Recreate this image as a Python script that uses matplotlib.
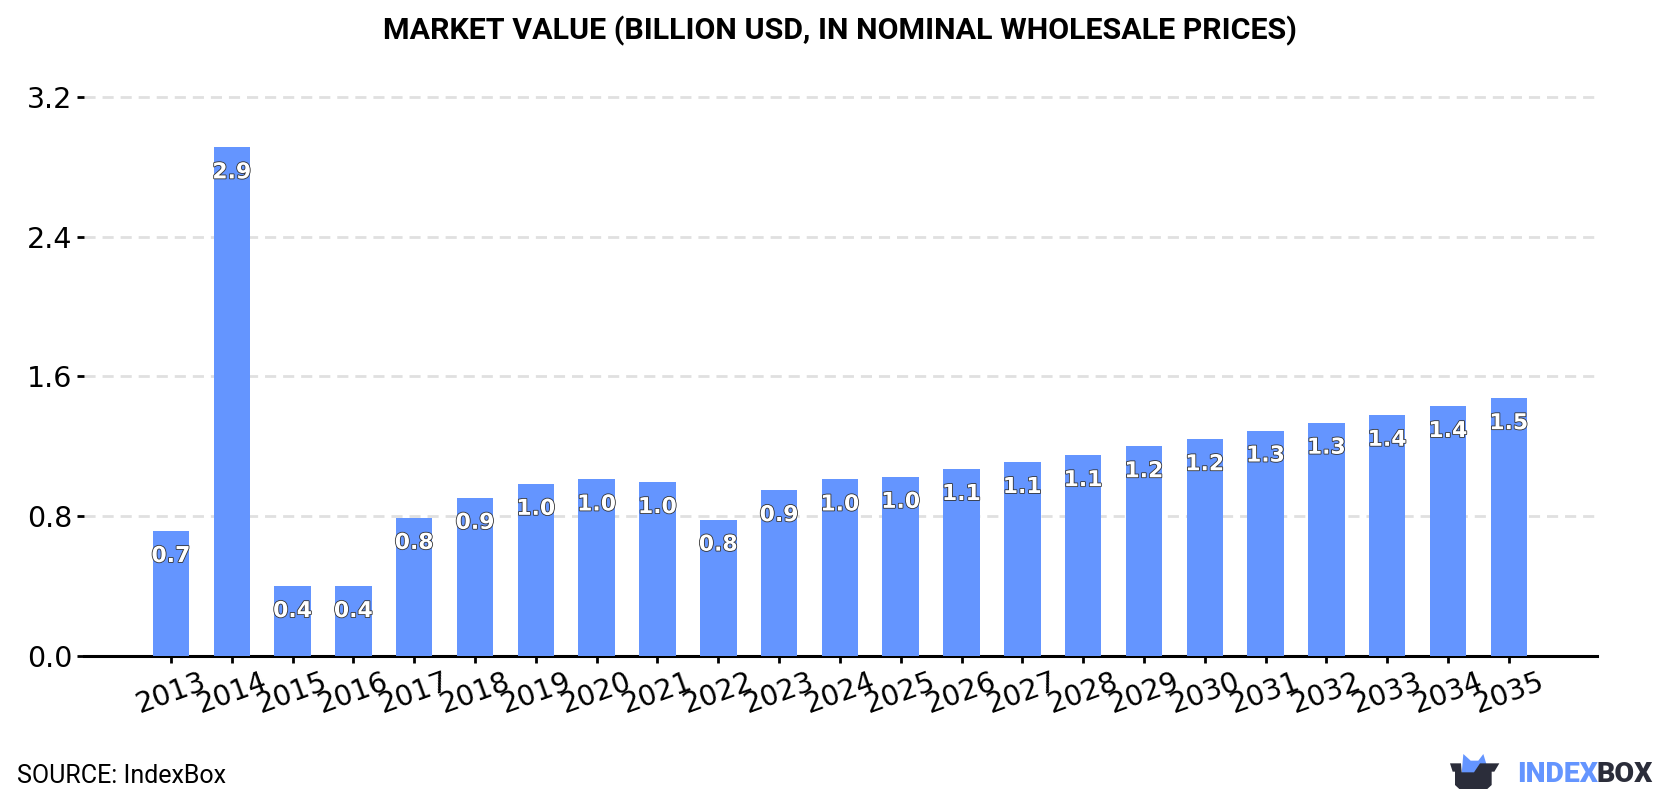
import matplotlib
matplotlib.use('Agg')
import matplotlib.pyplot as plt
import matplotlib.patheffects as pe
from matplotlib.patches import Polygon

years = list(range(2013, 2036))
values = [0.715, 2.91, 0.40, 0.40, 0.79, 0.905, 0.985, 1.01, 0.995, 0.78, 0.949, 1.01,
          1.025, 1.07, 1.11, 1.149, 1.20, 1.24, 1.29, 1.335, 1.38, 1.43, 1.475]
y_ticks = [0.0, 0.8, 1.6, 2.4, 3.2]

W, H = 1680, 800
BLUE = '#6495ff'
DARK = '#2b2d3a'

fig = plt.figure(figsize=(W / 100, H / 100), dpi=100)
ax = fig.add_axes([84 / W, (H - 656) / H, (1597 - 84) / W, (656 - 88) / H])

ax.bar(years, values, width=0.6, color=BLUE, zorder=3)

ax.set_xlim(2013 - 1.43, 2013 + 23.45)
ax.set_ylim(0, 3.25)
ax.set_yticks(y_ticks)
ax.set_yticklabels([f'{v:.1f}' for v in y_ticks])
ax.set_xticks(years)
ax.set_xticklabels(years, rotation=20)
ax.tick_params(axis='y', labelsize=20.5, length=5, width=2, pad=3.5)
ax.tick_params(axis='x', labelsize=20.5, length=5, width=2, pad=3)
ax.grid(axis='y', color='#e0e0e0', lw=2, dashes=(4, 2.5), zorder=1)
ax.set_axisbelow(True)

for s in ['top', 'left', 'right']:
    ax.spines[s].set_visible(False)
ax.spines['bottom'].set_linewidth(2.2)

for x, v in zip(years, values):
    ax.annotate(f'{v:.1f}', (x, v), xytext=(0, -18), textcoords='offset points',
                ha='center', va='center', fontsize=15.8, fontweight='bold', color='white',
                zorder=5, path_effects=[pe.withStroke(linewidth=1.2, foreground='#333333')])

fig.text(840 / W, 1 - 31 / H, 'MARKET VALUE (BILLION USD, IN NOMINAL WHOLESALE PRICES)',
         ha='center', va='center', family='Roboto', fontweight='bold', fontsize=21.9, color='black')
fig.text(17 / W, 1 - 776 / H, 'SOURCE: IndexBox', ha='left', va='center',
         family='Roboto', fontsize=18, color='black')

# logo: box and the blue shape poking out of it, in pixel coordinates
logo = fig.add_axes([0, 0, 1, 1], facecolor='none')
logo.set_xlim(0, W)
logo.set_ylim(H, 0)
logo.axis('off')


def px(points):
    return [(1400 + a / 3, 730 + b / 3) for a, b in points]


logo.add_patch(Polygon(px([(185, 130), (190, 72), (212, 92), (235, 92), (250, 72), (260, 105),
                           (222, 130)]), closed=True, fc=BLUE, ec='none'))
logo.add_patch(Polygon(px([(150, 100), (183, 100), (185, 127), (222, 127), (240, 100), (298, 100),
                           (283, 125), (275, 125), (275, 165), (262, 177), (178, 177), (165, 165),
                           (165, 125), (158, 125)]), closed=True, fc=DARK, ec='none'))
logo.text(1517, 775, 'INDEX', color=BLUE, family='Roboto', fontweight='black', fontsize=20.5,
          ha='left', va='center')
logo.text(1597, 775, 'BOX', color=DARK, family='Roboto', fontweight='black', fontsize=20.5,
          ha='left', va='center')

fig.savefig('out.png', dpi=100)
